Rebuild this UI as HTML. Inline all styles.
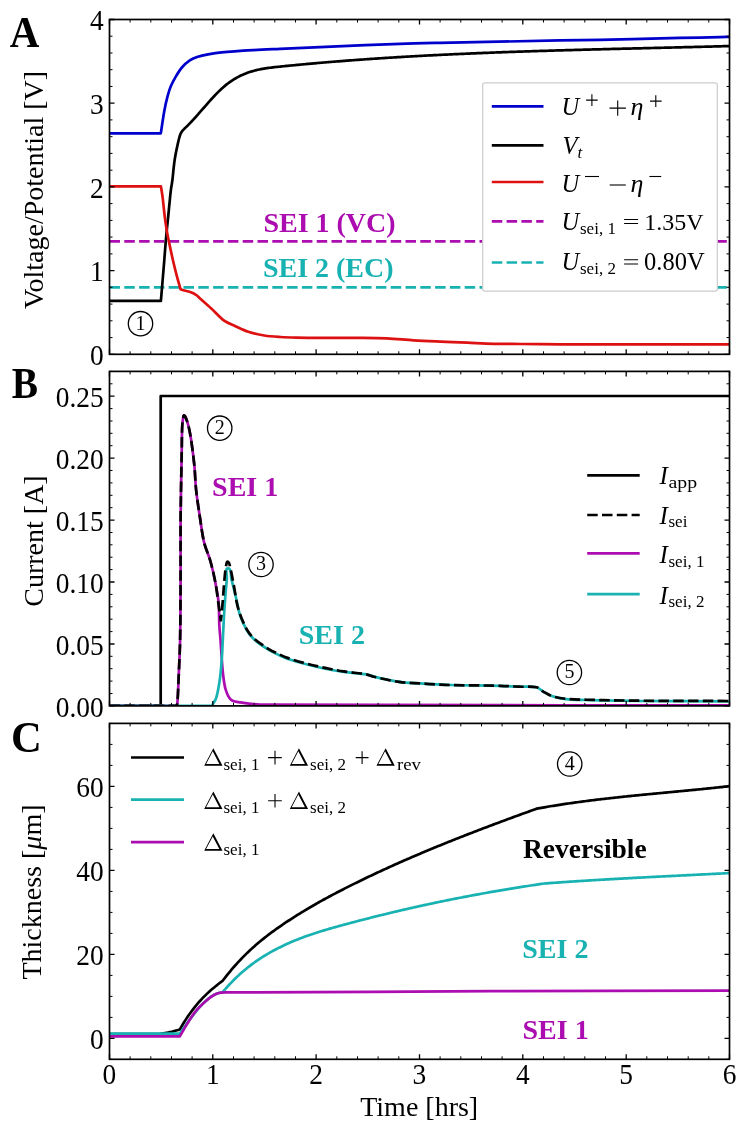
<!DOCTYPE html>
<html><head><meta charset="utf-8"><style>
html,body{margin:0;padding:0;background:#fff;width:746px;height:1131px;overflow:hidden}
svg{display:block;will-change:transform}
text{font-family:"Liberation Serif",serif}
</style></head><body>
<svg width="746" height="1131" viewBox="0 0 746 1131">
<rect width="746" height="1131" fill="#fff"/>
<defs>
<clipPath id="clipa"><rect x="109.5" y="19.5" width="620.0" height="334.8"/></clipPath>
<clipPath id="clipb"><rect x="109.5" y="371.4" width="620.0" height="334.5"/></clipPath>
<clipPath id="clipc"><rect x="109.5" y="723.4" width="620.0" height="335.9"/></clipPath>
</defs>
<g clip-path="url(#clipa)">
<path d="M109.5,241.3 L729.5,241.3" fill="none" stroke="#ab0db0" stroke-width="2.7" stroke-linejoin="round" stroke-dasharray="10.5 4.3"/>
<path d="M109.5,287.3 L729.5,287.3" fill="none" stroke="#19b2b2" stroke-width="2.7" stroke-linejoin="round" stroke-dasharray="10.5 4.3"/>
<path d="M109.00,133.40 L160.80,133.40 C162.00,125.77 163.01,118.10 164.40,110.50 C165.28,105.70 166.35,100.92 167.60,96.20 C168.46,92.95 169.41,89.71 170.70,86.60 C172.06,83.32 173.71,80.16 175.50,77.10 C177.45,73.78 179.40,70.42 181.90,67.50 C184.20,64.81 186.86,62.38 189.80,60.40 C192.23,58.77 195.02,57.72 197.80,56.80 C201.12,55.71 204.57,55.04 208.00,54.40 C212.47,53.57 216.97,52.83 221.50,52.40 C232.18,51.39 242.89,50.75 253.60,50.10 C262.39,49.57 271.20,49.25 280.00,48.85 C293.33,48.24 306.66,47.61 320.00,47.05 C346.66,45.94 373.33,44.78 400.00,43.85 C413.33,43.38 426.67,43.13 440.00,42.85 C480.00,42.00 520.00,41.18 560.00,40.45 C573.33,40.21 586.67,40.23 600.00,39.95 C626.67,39.39 653.33,38.57 680.00,37.95 C693.33,37.64 706.67,37.45 720.00,37.15 C723.17,37.08 726.33,36.95 729.50,36.85" fill="none" stroke="#0000cc" stroke-width="2.7" stroke-linejoin="round"/>
<path d="M109.00,300.80 L113.36,300.80 L119.54,300.80 L126.94,300.80 L134.95,300.80 L142.96,300.80 L150.36,300.80 L156.54,300.80 L160.90,300.80 L161.13,298.09 L161.44,294.44 L161.80,290.10 L162.21,285.29 L162.63,280.26 L163.05,275.25 L163.45,270.48 L163.80,266.20 L164.12,262.29 L164.42,258.48 L164.71,254.75 L164.99,251.12 L165.26,247.59 L165.54,244.14 L165.82,240.77 L166.10,237.50 L166.39,234.35 L166.67,231.35 L166.96,228.46 L167.25,225.64 L167.54,222.87 L167.82,220.12 L168.11,217.34 L168.40,214.50 L168.69,211.55 L168.99,208.48 L169.29,205.37 L169.59,202.28 L169.88,199.28 L170.17,196.44 L170.44,193.82 L170.70,191.50 L170.94,189.58 L171.15,188.04 L171.35,186.76 L171.54,185.62 L171.74,184.50 L171.94,183.27 L172.16,181.81 L172.40,180.00 L172.66,177.82 L172.92,175.37 L173.18,172.73 L173.46,169.97 L173.76,167.15 L174.08,164.33 L174.42,161.59 L174.80,159.00 L175.23,156.45 L175.70,153.83 L176.22,151.21 L176.75,148.64 L177.28,146.17 L177.80,143.87 L178.27,141.80 L178.70,140.00 L179.07,138.51 L179.39,137.30 L179.67,136.30 L179.94,135.46 L180.21,134.75 L180.48,134.10 L180.77,133.47 L181.10,132.80 L181.48,132.12 L181.92,131.48 L182.38,130.89 L182.85,130.35 L183.30,129.87 L183.71,129.44 L184.05,129.09 L184.30,128.80 L185.80,127.38 L187.30,125.92 L188.81,124.41 L190.31,122.85 L191.81,121.26 L193.31,119.64 L194.81,117.99 L196.32,116.31 L197.82,114.62 L199.32,112.91 L200.82,111.19 L202.32,109.46 L203.83,107.74 L205.33,106.01 L206.83,104.30 L208.33,102.59 L209.83,100.90 L211.33,99.23 L212.84,97.59 L214.34,95.98 L215.84,94.40 L217.34,92.86 L218.84,91.36 L220.35,89.91 L221.85,88.52 L223.35,87.17 L224.85,85.89 L226.35,84.67 L227.86,83.50 L229.36,82.39 L230.86,81.34 L232.36,80.33 L233.86,79.38 L235.37,78.48 L236.87,77.62 L238.37,76.82 L239.87,76.05 L241.37,75.33 L242.88,74.65 L244.38,74.01 L245.88,73.41 L247.38,72.85 L248.88,72.32 L250.38,71.82 L251.89,71.36 L253.39,70.93 L254.89,70.53 L256.39,70.15 L257.89,69.80 L259.40,69.47 L260.90,69.17 L262.40,68.89 L263.90,68.62 L265.40,68.38 L266.91,68.15 L268.41,67.94 L269.91,67.73 L271.41,67.54 L272.91,67.37 L274.42,67.19 L275.92,67.03 L277.42,66.87 L278.92,66.72 L280.42,66.56 L281.93,66.41 L283.43,66.26 L284.93,66.11 L286.43,65.96 L287.93,65.81 L289.43,65.66 L290.94,65.52 L292.44,65.37 L293.94,65.22 L295.44,65.08 L296.94,64.94 L298.45,64.80 L299.95,64.65 L301.45,64.51 L302.95,64.37 L304.45,64.24 L305.96,64.10 L307.46,63.96 L308.96,63.83 L310.46,63.69 L311.96,63.56 L313.47,63.42 L314.97,63.29 L316.47,63.16 L317.97,63.03 L319.47,62.90 L320.98,62.77 L322.48,62.64 L323.98,62.51 L325.48,62.39 L326.98,62.26 L328.49,62.14 L329.99,62.01 L331.49,61.89 L332.99,61.77 L334.49,61.64 L335.99,61.52 L337.50,61.40 L339.00,61.28 L340.50,61.17 L342.00,61.05 L343.50,60.93 L345.01,60.81 L346.51,60.70 L348.01,60.58 L349.51,60.47 L351.01,60.36 L352.52,60.25 L354.02,60.13 L355.52,60.02 L357.02,59.91 L358.52,59.80 L360.03,59.70 L361.53,59.59 L363.03,59.48 L364.53,59.37 L366.03,59.27 L367.54,59.16 L369.04,59.06 L370.54,58.96 L372.04,58.85 L373.54,58.75 L375.04,58.65 L376.55,58.55 L378.05,58.45 L379.55,58.35 L381.05,58.25 L382.55,58.16 L384.06,58.06 L385.56,57.96 L387.06,57.87 L388.56,57.77 L390.06,57.68 L391.57,57.58 L393.07,57.49 L394.57,57.40 L396.07,57.31 L397.57,57.21 L399.08,57.12 L400.58,57.03 L402.08,56.95 L403.58,56.86 L405.08,56.77 L406.59,56.68 L408.09,56.60 L409.59,56.51 L411.09,56.42 L412.59,56.34 L414.10,56.25 L415.60,56.17 L417.10,56.09 L418.60,56.01 L420.10,55.92 L421.60,55.84 L423.11,55.76 L424.61,55.68 L426.11,55.60 L427.61,55.52 L429.11,55.45 L430.62,55.37 L432.12,55.29 L433.62,55.21 L435.12,55.14 L436.62,55.06 L438.13,54.99 L439.63,54.91 L441.13,54.84 L442.63,54.77 L444.13,54.69 L445.64,54.62 L447.14,54.55 L448.64,54.48 L450.14,54.41 L451.64,54.34 L453.15,54.27 L454.65,54.20 L456.15,54.13 L457.65,54.06 L459.15,53.99 L460.65,53.92 L462.16,53.86 L463.66,53.79 L465.16,53.73 L466.66,53.66 L468.16,53.60 L469.67,53.53 L471.17,53.47 L472.67,53.40 L474.17,53.34 L475.67,53.28 L477.18,53.22 L478.68,53.15 L480.18,53.09 L481.68,53.03 L483.18,52.97 L484.69,52.91 L486.19,52.85 L487.69,52.79 L489.19,52.73 L490.69,52.68 L492.20,52.62 L493.70,52.56 L495.20,52.50 L496.70,52.45 L498.20,52.39 L499.70,52.34 L501.21,52.28 L502.71,52.22 L504.21,52.17 L505.71,52.12 L507.21,52.06 L508.72,52.01 L510.22,51.95 L511.72,51.90 L513.22,51.85 L514.72,51.80 L516.23,51.74 L517.73,51.69 L519.23,51.64 L520.73,51.59 L522.23,51.54 L523.74,51.49 L525.24,51.44 L526.74,51.39 L528.24,51.34 L529.74,51.29 L531.25,51.24 L532.75,51.20 L534.25,51.15 L535.75,51.10 L537.25,51.05 L538.76,51.01 L540.26,50.96 L541.76,50.91 L543.26,50.87 L544.76,50.82 L546.26,50.78 L547.77,50.73 L549.27,50.68 L550.77,50.64 L552.27,50.59 L553.77,50.55 L555.28,50.51 L556.78,50.46 L558.28,50.42 L559.78,50.38 L561.28,50.33 L562.79,50.29 L564.29,50.25 L565.79,50.20 L567.29,50.16 L568.79,50.12 L570.30,50.08 L571.80,50.04 L573.30,49.99 L574.80,49.95 L576.30,49.91 L577.81,49.87 L579.31,49.83 L580.81,49.79 L582.31,49.75 L583.81,49.71 L585.31,49.67 L586.82,49.63 L588.32,49.59 L589.82,49.55 L591.32,49.51 L592.82,49.47 L594.33,49.43 L595.83,49.39 L597.33,49.36 L598.83,49.32 L600.33,49.28 L601.84,49.24 L603.34,49.20 L604.84,49.16 L606.34,49.13 L607.84,49.09 L609.35,49.05 L610.85,49.01 L612.35,48.97 L613.85,48.94 L615.35,48.90 L616.86,48.86 L618.36,48.83 L619.86,48.79 L621.36,48.75 L622.86,48.71 L624.37,48.68 L625.87,48.64 L627.37,48.60 L628.87,48.57 L630.37,48.53 L631.87,48.49 L633.38,48.46 L634.88,48.42 L636.38,48.38 L637.88,48.35 L639.38,48.31 L640.89,48.28 L642.39,48.24 L643.89,48.20 L645.39,48.17 L646.89,48.13 L648.40,48.09 L649.90,48.06 L651.40,48.02 L652.90,47.99 L654.40,47.95 L655.91,47.91 L657.41,47.88 L658.91,47.84 L660.41,47.80 L661.91,47.77 L663.42,47.73 L664.92,47.70 L666.42,47.66 L667.92,47.62 L669.42,47.59 L670.92,47.55 L672.43,47.51 L673.93,47.48 L675.43,47.44 L676.93,47.40 L678.43,47.37 L679.94,47.33 L681.44,47.29 L682.94,47.26 L684.44,47.22 L685.94,47.18 L687.45,47.14 L688.95,47.11 L690.45,47.07 L691.95,47.03 L693.45,46.99 L694.96,46.96 L696.46,46.92 L697.96,46.88 L699.46,46.84 L700.96,46.80 L702.47,46.77 L703.97,46.73 L705.47,46.69 L706.97,46.65 L708.47,46.61 L709.97,46.57 L711.48,46.53 L712.98,46.49 L714.48,46.45 L715.98,46.41 L717.48,46.37 L718.99,46.33 L720.49,46.29 L721.99,46.25 L723.49,46.21 L724.99,46.17 L726.50,46.13 L728.00,46.09 L729.50,46.05" fill="none" stroke="#000000" stroke-width="2.7" stroke-linejoin="round"/>
<path d="M109.00,186.30 L160.90,186.30 C161.47,189.93 162.14,193.55 162.60,197.20 C163.47,204.09 164.01,211.01 164.90,217.90 C165.55,222.92 166.33,227.92 167.20,232.90 C167.87,236.75 168.70,240.57 169.50,244.40 C170.63,249.77 171.77,255.15 173.00,260.50 C174.07,265.12 175.20,269.72 176.40,274.30 C177.70,279.28 179.13,284.23 180.50,289.20 C181.43,289.57 182.34,290.01 183.30,290.30 C185.58,290.98 187.97,291.29 190.20,292.10 C192.22,292.83 194.19,293.74 196.00,294.90 C197.49,295.86 198.68,297.22 200.00,298.40 C203.78,301.76 207.58,305.08 211.30,308.50 C215.62,312.48 219.37,317.12 224.10,320.60 C227.49,323.09 231.58,324.43 235.40,326.20 C239.65,328.17 243.84,330.36 248.30,331.80 C253.51,333.48 258.90,334.62 264.30,335.50 C269.62,336.36 275.02,336.65 280.40,337.00 C285.76,337.35 291.13,337.48 296.50,337.60 C304.33,337.78 312.17,337.86 320.00,337.90 C333.33,337.96 346.67,337.80 360.00,337.90 C368.93,337.97 377.87,338.00 386.80,338.40 C395.75,338.80 404.66,339.77 413.60,340.30 C422.53,340.83 431.47,341.20 440.40,341.60 C449.33,342.00 458.27,342.33 467.20,342.70 C476.13,343.07 485.06,343.58 494.00,343.80 C502.96,344.02 511.93,343.93 520.90,344.00 C533.93,344.10 546.97,344.28 560.00,344.30 C616.40,344.38 672.80,344.30 729.20,344.30" fill="none" stroke="#dd1111" stroke-width="2.7" stroke-linejoin="round"/>
</g>
<g clip-path="url(#clipb)">
<path d="M109.5,705.9 L160.7,705.9 L160.7,396.0 L729.2,396.0" fill="none" stroke="#000000" stroke-width="2.7" stroke-linejoin="round"/>
<path d="M109.45,705.90 L176.50,705.90 C176.80,704.97 177.33,704.08 177.40,703.10 C178.10,693.28 178.38,683.44 178.80,673.60 C179.28,662.44 179.89,651.27 180.10,640.10 C180.49,620.07 180.52,600.03 180.60,580.00 C180.68,559.97 180.49,539.93 180.60,519.90 C180.66,508.20 180.91,496.50 181.10,484.80 C181.27,474.20 181.50,463.60 181.70,453.00 C181.87,444.17 181.81,435.33 182.20,426.50 C182.34,423.32 182.71,420.13 183.30,417.00 C183.42,416.38 183.71,415.17 184.30,415.40 C185.25,415.77 185.53,417.05 185.90,418.00 C186.97,420.77 187.91,423.61 188.60,426.50 C189.68,431.05 190.52,435.67 191.20,440.30 C192.45,448.84 193.55,457.41 194.40,466.00 C195.18,473.91 195.24,481.89 196.10,489.80 C197.14,499.40 198.65,508.95 200.10,518.50 C201.31,526.49 202.20,534.55 204.10,542.40 C205.68,548.93 208.68,555.04 210.50,561.50 C212.42,568.32 213.93,575.25 215.30,582.20 C216.63,588.93 217.96,595.67 218.60,602.50 C219.30,609.97 218.92,617.51 219.30,625.00 C219.55,630.01 220.13,635.00 220.50,640.00 C220.87,645.00 221.13,650.00 221.50,655.00 C221.96,661.20 222.25,667.42 223.00,673.60 C223.65,679.00 224.11,684.50 225.70,689.70 C226.81,693.34 228.12,697.31 231.00,699.80 C233.46,701.93 237.19,701.88 240.40,702.40 C246.89,703.45 253.43,704.46 260.00,704.50 C416.40,705.46 572.80,705.10 729.20,705.40" fill="none" stroke="#ab0db0" stroke-width="2.7" stroke-linejoin="round"/>
<path d="M109.45,705.90 L212.00,705.90 C212.33,705.20 212.64,704.49 213.00,703.80 C214.07,701.75 215.67,699.92 216.30,697.70 C217.92,692.02 218.86,686.15 219.70,680.30 C220.66,673.64 221.18,666.91 221.70,660.20 C222.22,653.48 222.44,646.73 222.80,640.00 C223.37,629.23 223.79,618.46 224.50,607.70 C225.13,598.12 225.90,588.56 226.80,579.00 C227.13,575.45 224.64,568.29 228.20,568.41 C231.94,568.54 230.44,575.55 231.40,579.16 C233.04,585.34 234.51,591.56 236.00,597.78 C237.38,603.53 238.13,609.45 240.00,615.06 C241.75,620.31 244.01,625.42 246.80,630.20 C248.82,633.66 251.31,636.93 254.30,639.60 C258.72,643.55 263.78,646.74 268.80,649.90 C271.74,651.75 274.96,653.12 278.10,654.60 C281.19,656.06 284.27,657.59 287.50,658.70 C293.68,660.83 299.98,662.62 306.30,664.30 C312.52,665.95 318.79,667.41 325.10,668.70 C331.30,669.97 337.53,671.09 343.80,671.96 C351.27,673.00 358.84,673.29 366.30,674.44 C368.87,674.84 371.27,675.98 373.80,676.60 C379.18,677.91 384.57,679.12 390.00,680.20 C394.11,681.02 398.23,681.89 402.40,682.30 C410.41,683.09 418.46,683.34 426.50,683.80 C434.33,684.24 442.16,684.79 450.00,685.00 C466.66,685.45 483.34,685.39 500.00,685.80 C506.27,685.95 512.53,686.44 518.80,686.70 C524.73,686.94 530.78,686.14 536.60,687.30 C539.17,687.81 540.92,690.27 543.20,691.56 C546.23,693.28 549.20,695.22 552.50,696.33 C556.76,697.75 561.23,698.59 565.70,699.10 C571.90,699.81 578.16,699.84 584.40,700.00 C602.93,700.47 621.46,700.83 640.00,701.00 C669.73,701.27 699.47,701.20 729.20,701.30" fill="none" stroke="#19b2b2" stroke-width="2.7" stroke-linejoin="round"/>
<path d="M109.45,705.90 L176.50,705.90 C176.80,704.97 177.33,704.08 177.40,703.10 C178.10,693.28 178.38,683.44 178.80,673.60 C179.28,662.44 179.89,651.27 180.10,640.10 C180.49,620.07 180.52,600.03 180.60,580.00 C180.68,559.97 180.49,539.93 180.60,519.90 C180.66,508.20 180.91,496.50 181.10,484.80 C181.27,474.20 181.50,463.60 181.70,453.00 C181.87,444.17 181.81,435.33 182.20,426.50 C182.34,423.32 182.71,420.13 183.30,417.00 C183.42,416.38 183.71,415.17 184.30,415.40 C185.25,415.77 185.53,417.05 185.90,418.00 C186.97,420.77 187.91,423.61 188.60,426.50 C189.68,431.05 190.52,435.67 191.20,440.30 C192.45,448.84 193.55,457.41 194.40,466.00 C195.18,473.91 195.24,481.89 196.10,489.80 C197.14,499.40 198.65,508.95 200.10,518.50 C201.31,526.49 202.20,534.55 204.10,542.40 C205.68,548.93 208.68,555.04 210.50,561.50 C212.42,568.32 214.03,575.23 215.30,582.20 C216.93,591.15 217.90,600.20 219.20,609.20 C219.74,612.93 220.27,616.67 220.80,620.40 C221.27,616.17 221.82,611.94 222.20,607.70 C223.05,598.14 223.60,588.56 224.50,579.00 C224.93,574.39 225.31,569.75 226.20,565.20 C226.45,563.93 226.78,561.05 227.90,561.70 C229.70,562.74 229.69,565.48 230.20,567.50 C231.63,573.17 232.58,578.96 233.70,584.70 C235.28,592.76 235.99,601.02 238.30,608.90 C240.38,616.00 243.31,622.88 246.80,629.40 C248.69,632.93 251.31,636.13 254.30,638.80 C258.72,642.75 263.78,645.94 268.80,649.10 C271.74,650.95 274.96,652.32 278.10,653.80 C281.19,655.26 284.27,656.79 287.50,657.90 C293.68,660.03 299.98,661.82 306.30,663.50 C312.52,665.15 318.80,666.57 325.10,667.90 C331.31,669.21 337.53,670.46 343.80,671.44 C351.27,672.62 358.85,673.08 366.30,674.39 C368.88,674.84 371.26,676.06 373.80,676.70 C379.17,678.04 384.57,679.25 390.00,680.31 C394.11,681.12 398.23,681.90 402.40,682.30 C410.41,683.07 418.46,683.34 426.50,683.80 C434.33,684.24 442.16,684.79 450.00,685.00 C466.66,685.45 483.34,685.39 500.00,685.80 C506.27,685.95 512.53,686.44 518.80,686.70 C524.73,686.94 530.78,686.14 536.60,687.30 C539.17,687.81 540.92,690.27 543.20,691.56 C546.23,693.28 549.18,695.26 552.50,696.33 C556.76,697.70 561.25,698.33 565.70,698.80 C571.91,699.46 578.16,699.54 584.40,699.70 C602.93,700.17 621.46,700.53 640.00,700.70 C669.73,700.97 699.47,700.90 729.20,701.00" fill="none" stroke="#000000" stroke-width="2.7" stroke-linejoin="round" stroke-dasharray="10.5 4.3"/>
</g>
<g clip-path="url(#clipc)">
<path d="M109.00,1034.00 L113.28,1034.00 L119.36,1034.00 L126.63,1034.00 L134.50,1034.00 L142.37,1034.00 L149.64,1034.00 L155.72,1034.00 L160.00,1034.00 L160.87,1033.84 L162.05,1033.63 L163.45,1033.38 L165.01,1033.10 L166.63,1032.80 L168.23,1032.50 L169.75,1032.19 L171.10,1031.90 L172.36,1031.60 L173.65,1031.26 L174.92,1030.92 L176.14,1030.57 L177.28,1030.24 L178.29,1029.94 L179.15,1029.69 L179.80,1029.50 L181.33,1026.83 L182.86,1024.26 L184.40,1021.78 L185.93,1019.38 L187.46,1017.07 L188.99,1014.83 L190.53,1012.68 L192.06,1010.60 L193.59,1008.59 L195.12,1006.66 L196.65,1004.79 L198.19,1002.98 L199.72,1001.24 L201.25,999.56 L202.78,997.94 L204.31,996.37 L205.85,994.85 L207.38,993.38 L208.91,991.95 L210.44,990.57 L211.97,989.23 L213.51,987.93 L215.04,986.67 L216.57,985.43 L218.10,984.23 L219.64,983.05 L221.17,981.90 L222.70,980.77 L224.20,978.79 L225.71,976.86 L227.21,974.96 L228.71,973.09 L230.21,971.27 L231.72,969.48 L233.22,967.73 L234.72,966.01 L236.23,964.32 L237.73,962.67 L239.23,961.04 L240.73,959.45 L242.24,957.89 L243.74,956.36 L245.24,954.86 L246.75,953.39 L248.25,951.94 L249.75,950.53 L251.25,949.13 L252.76,947.77 L254.26,946.42 L255.76,945.10 L257.27,943.81 L258.77,942.53 L260.27,941.28 L261.77,940.04 L263.28,938.83 L264.78,937.64 L266.28,936.46 L267.79,935.30 L269.29,934.16 L270.79,933.04 L272.29,931.93 L273.80,930.83 L275.30,929.75 L276.80,928.68 L278.31,927.62 L279.81,926.57 L281.31,925.54 L282.81,924.51 L284.32,923.49 L285.82,922.49 L287.32,921.49 L288.83,920.50 L290.33,919.51 L291.83,918.54 L293.33,917.58 L294.84,916.62 L296.34,915.67 L297.84,914.73 L299.35,913.79 L300.85,912.86 L302.35,911.95 L303.86,911.03 L305.36,910.13 L306.86,909.23 L308.36,908.34 L309.87,907.46 L311.37,906.58 L312.87,905.71 L314.38,904.84 L315.88,903.98 L317.38,903.13 L318.88,902.28 L320.39,901.44 L321.89,900.61 L323.39,899.78 L324.90,898.95 L326.40,898.14 L327.90,897.32 L329.40,896.51 L330.91,895.71 L332.41,894.91 L333.91,894.12 L335.42,893.33 L336.92,892.54 L338.42,891.76 L339.92,890.98 L341.43,890.21 L342.93,889.44 L344.43,888.67 L345.94,887.91 L347.44,887.15 L348.94,886.40 L350.44,885.65 L351.95,884.90 L353.45,884.15 L354.95,883.41 L356.46,882.67 L357.96,881.93 L359.46,881.19 L360.96,880.46 L362.47,879.73 L363.97,879.01 L365.47,878.28 L366.98,877.56 L368.48,876.84 L369.98,876.13 L371.48,875.41 L372.99,874.70 L374.49,874.00 L375.99,873.29 L377.50,872.59 L379.00,871.89 L380.50,871.19 L382.00,870.49 L383.51,869.80 L385.01,869.11 L386.51,868.42 L388.02,867.74 L389.52,867.06 L391.02,866.38 L392.52,865.70 L394.03,865.02 L395.53,864.35 L397.03,863.68 L398.54,863.01 L400.04,862.34 L401.54,861.68 L403.04,861.02 L404.55,860.36 L406.05,859.70 L407.55,859.04 L409.06,858.39 L410.56,857.74 L412.06,857.09 L413.56,856.44 L415.07,855.80 L416.57,855.16 L418.07,854.51 L419.58,853.88 L421.08,853.24 L422.58,852.60 L424.08,851.97 L425.59,851.34 L427.09,850.71 L428.59,850.08 L430.10,849.46 L431.60,848.84 L433.10,848.21 L434.60,847.59 L436.11,846.98 L437.61,846.36 L439.11,845.75 L440.62,845.13 L442.12,844.52 L443.62,843.91 L445.12,843.31 L446.63,842.70 L448.13,842.10 L449.63,841.49 L451.14,840.89 L452.64,840.29 L454.14,839.70 L455.64,839.10 L457.15,838.50 L458.65,837.91 L460.15,837.32 L461.66,836.73 L463.16,836.14 L464.66,835.55 L466.17,834.97 L467.67,834.38 L469.17,833.80 L470.67,833.22 L472.18,832.64 L473.68,832.06 L475.18,831.48 L476.69,830.90 L478.19,830.33 L479.69,829.75 L481.19,829.18 L482.70,828.61 L484.20,828.04 L485.70,827.47 L487.21,826.90 L488.71,826.33 L490.21,825.76 L491.71,825.20 L493.22,824.64 L494.72,824.07 L496.22,823.51 L497.73,822.95 L499.23,822.39 L500.73,821.83 L502.23,821.27 L503.74,820.71 L505.24,820.16 L506.74,819.60 L508.25,819.05 L509.75,818.49 L511.25,817.94 L512.75,817.39 L514.26,816.84 L515.76,816.28 L517.26,815.73 L518.77,815.18 L520.27,814.64 L521.77,814.09 L523.27,813.54 L524.78,812.99 L526.28,812.45 L527.78,811.90 L529.29,811.36 L530.79,810.81 L532.29,810.27 L533.79,809.72 L535.30,809.18 L536.80,808.64 L538.30,808.37 L539.81,808.10 L541.31,807.83 L542.81,807.57 L544.32,807.30 L545.82,807.05 L547.32,806.79 L548.82,806.54 L550.33,806.29 L551.83,806.04 L553.33,805.80 L554.84,805.56 L556.34,805.32 L557.84,805.08 L559.35,804.85 L560.85,804.61 L562.35,804.38 L563.86,804.16 L565.36,803.93 L566.86,803.71 L568.37,803.49 L569.87,803.27 L571.37,803.06 L572.88,802.85 L574.38,802.63 L575.88,802.43 L577.38,802.22 L578.89,802.02 L580.39,801.81 L581.89,801.61 L583.40,801.41 L584.90,801.22 L586.40,801.02 L587.91,800.83 L589.41,800.64 L590.91,800.45 L592.42,800.26 L593.92,800.08 L595.42,799.89 L596.92,799.71 L598.43,799.53 L599.93,799.35 L601.43,799.17 L602.94,799.00 L604.44,798.82 L605.94,798.65 L607.45,798.48 L608.95,798.31 L610.45,798.14 L611.96,797.97 L613.46,797.81 L614.96,797.64 L616.47,797.48 L617.97,797.32 L619.47,797.16 L620.98,797.00 L622.48,796.84 L623.98,796.68 L625.48,796.52 L626.99,796.37 L628.49,796.21 L629.99,796.06 L631.50,795.90 L633.00,795.75 L634.50,795.60 L636.01,795.45 L637.51,795.30 L639.01,795.15 L640.52,795.00 L642.02,794.85 L643.52,794.71 L645.02,794.56 L646.53,794.41 L648.03,794.27 L649.53,794.12 L651.04,793.98 L652.54,793.83 L654.04,793.69 L655.55,793.55 L657.05,793.40 L658.55,793.26 L660.06,793.12 L661.56,792.97 L663.06,792.83 L664.57,792.69 L666.07,792.55 L667.57,792.40 L669.08,792.26 L670.58,792.12 L672.08,791.98 L673.58,791.83 L675.09,791.69 L676.59,791.55 L678.09,791.41 L679.60,791.26 L681.10,791.12 L682.60,790.98 L684.11,790.83 L685.61,790.69 L687.11,790.55 L688.62,790.40 L690.12,790.25 L691.62,790.11 L693.12,789.96 L694.63,789.82 L696.13,789.67 L697.63,789.52 L699.14,789.37 L700.64,789.22 L702.14,789.07 L703.65,788.92 L705.15,788.77 L706.65,788.62 L708.16,788.46 L709.66,788.31 L711.16,788.15 L712.67,788.00 L714.17,787.84 L715.67,787.68 L717.18,787.52 L718.68,787.36 L720.18,787.20 L721.68,787.04 L723.19,786.87 L724.69,786.71 L726.19,786.54 L727.70,786.37 L729.20,786.21" fill="none" stroke="#000000" stroke-width="2.7" stroke-linejoin="round"/>
<path d="M109.00,1033.70 L114.95,1033.70 L123.38,1033.70 L133.48,1033.70 L144.40,1033.70 L155.32,1033.70 L165.42,1033.70 L173.85,1033.70 L179.80,1033.70 L181.33,1031.49 L182.85,1029.30 L184.38,1027.11 L185.90,1024.95 L187.43,1022.81 L188.95,1020.70 L190.48,1018.63 L192.00,1016.60 L193.53,1014.61 L195.05,1012.67 L196.58,1010.79 L198.10,1008.97 L199.62,1007.22 L201.15,1005.53 L202.68,1003.93 L204.20,1002.40 L205.72,1000.97 L207.25,999.62 L208.78,998.37 L210.30,997.23 L211.82,996.19 L213.35,995.26 L214.88,994.46 L216.40,993.77 L217.93,993.22 L219.45,992.79 L220.97,992.51 L222.50,992.37 L224.00,990.59 L225.51,988.86 L227.01,987.16 L228.51,985.51 L230.02,983.89 L231.52,982.32 L233.03,980.78 L234.53,979.27 L236.03,977.81 L237.54,976.38 L239.04,974.98 L240.54,973.61 L242.05,972.28 L243.55,970.98 L245.06,969.72 L246.56,968.48 L248.06,967.27 L249.57,966.09 L251.07,964.94 L252.57,963.82 L254.08,962.72 L255.58,961.65 L257.09,960.61 L258.59,959.59 L260.09,958.59 L261.60,957.61 L263.10,956.66 L264.60,955.73 L266.11,954.82 L267.61,953.93 L269.12,953.05 L270.62,952.20 L272.12,951.36 L273.63,950.54 L275.13,949.74 L276.63,948.95 L278.14,948.17 L279.64,947.42 L281.15,946.67 L282.65,945.95 L284.15,945.23 L285.66,944.53 L287.16,943.84 L288.66,943.17 L290.17,942.51 L291.67,941.86 L293.18,941.23 L294.68,940.61 L296.18,939.99 L297.69,939.39 L299.19,938.81 L300.69,938.23 L302.20,937.66 L303.70,937.10 L305.21,936.55 L306.71,936.01 L308.21,935.48 L309.72,934.96 L311.22,934.45 L312.72,933.95 L314.23,933.45 L315.73,932.96 L317.24,932.48 L318.74,932.00 L320.24,931.53 L321.75,931.07 L323.25,930.62 L324.75,930.16 L326.26,929.72 L327.76,929.28 L329.27,928.84 L330.77,928.41 L332.27,927.98 L333.78,927.55 L335.28,927.13 L336.78,926.71 L338.29,926.30 L339.79,925.88 L341.30,925.47 L342.80,925.06 L344.30,924.65 L345.81,924.24 L347.31,923.84 L348.81,923.43 L350.32,923.03 L351.82,922.63 L353.33,922.23 L354.83,921.83 L356.33,921.44 L357.84,921.04 L359.34,920.65 L360.84,920.26 L362.35,919.87 L363.85,919.48 L365.36,919.09 L366.86,918.71 L368.36,918.32 L369.87,917.94 L371.37,917.56 L372.87,917.18 L374.38,916.80 L375.88,916.42 L377.39,916.05 L378.89,915.68 L380.39,915.31 L381.90,914.94 L383.40,914.57 L384.90,914.20 L386.41,913.83 L387.91,913.47 L389.41,913.11 L390.92,912.75 L392.42,912.39 L393.93,912.03 L395.43,911.67 L396.93,911.32 L398.44,910.97 L399.94,910.61 L401.44,910.26 L402.95,909.91 L404.45,909.57 L405.96,909.22 L407.46,908.88 L408.96,908.53 L410.47,908.19 L411.97,907.85 L413.47,907.51 L414.98,907.18 L416.48,906.84 L417.99,906.51 L419.49,906.17 L420.99,905.84 L422.50,905.51 L424.00,905.19 L425.50,904.86 L427.01,904.53 L428.51,904.21 L430.02,903.89 L431.52,903.57 L433.02,903.25 L434.53,902.93 L436.03,902.61 L437.53,902.30 L439.04,901.99 L440.54,901.67 L442.05,901.36 L443.55,901.05 L445.05,900.75 L446.56,900.44 L448.06,900.13 L449.56,899.83 L451.07,899.53 L452.57,899.23 L454.08,898.93 L455.58,898.63 L457.08,898.34 L458.59,898.04 L460.09,897.75 L461.59,897.46 L463.10,897.16 L464.60,896.88 L466.11,896.59 L467.61,896.30 L469.11,896.02 L470.62,895.73 L472.12,895.45 L473.62,895.17 L475.13,894.89 L476.63,894.61 L478.14,894.34 L479.64,894.06 L481.14,893.79 L482.65,893.51 L484.15,893.24 L485.65,892.97 L487.16,892.71 L488.66,892.44 L490.17,892.17 L491.67,891.91 L493.17,891.65 L494.68,891.39 L496.18,891.13 L497.68,890.87 L499.19,890.61 L500.69,890.35 L502.20,890.10 L503.70,889.85 L505.20,889.59 L506.71,889.34 L508.21,889.09 L509.71,888.85 L511.22,888.60 L512.72,888.36 L514.23,888.11 L515.73,887.87 L517.23,887.63 L518.74,887.39 L520.24,887.15 L521.74,886.91 L523.25,886.68 L524.75,886.44 L526.26,886.21 L527.76,885.98 L529.26,885.75 L530.77,885.52 L532.27,885.29 L533.77,885.06 L535.28,884.84 L536.78,884.62 L538.29,884.39 L539.79,884.17 L541.29,883.95 L542.80,883.73 L544.30,883.52 L545.80,883.40 L547.31,883.29 L548.81,883.18 L550.31,883.07 L551.82,882.96 L553.32,882.85 L554.82,882.75 L556.33,882.64 L557.83,882.53 L559.33,882.43 L560.84,882.32 L562.34,882.22 L563.84,882.12 L565.35,882.01 L566.85,881.91 L568.35,881.81 L569.86,881.71 L571.36,881.61 L572.86,881.51 L574.37,881.41 L575.87,881.31 L577.37,881.22 L578.87,881.12 L580.38,881.02 L581.88,880.93 L583.38,880.83 L584.89,880.74 L586.39,880.64 L587.89,880.55 L589.40,880.46 L590.90,880.36 L592.40,880.27 L593.91,880.18 L595.41,880.09 L596.91,880.00 L598.42,879.91 L599.92,879.82 L601.42,879.73 L602.93,879.64 L604.43,879.55 L605.93,879.47 L607.44,879.38 L608.94,879.29 L610.44,879.21 L611.95,879.12 L613.45,879.04 L614.95,878.95 L616.46,878.87 L617.96,878.78 L619.46,878.70 L620.97,878.62 L622.47,878.53 L623.97,878.45 L625.48,878.37 L626.98,878.29 L628.48,878.20 L629.99,878.12 L631.49,878.04 L632.99,877.96 L634.50,877.88 L636.00,877.80 L637.50,877.72 L639.00,877.64 L640.51,877.56 L642.01,877.48 L643.51,877.41 L645.02,877.33 L646.52,877.25 L648.02,877.17 L649.53,877.09 L651.03,877.02 L652.53,876.94 L654.04,876.86 L655.54,876.79 L657.04,876.71 L658.55,876.63 L660.05,876.56 L661.55,876.48 L663.06,876.40 L664.56,876.33 L666.06,876.25 L667.57,876.18 L669.07,876.10 L670.57,876.03 L672.08,875.95 L673.58,875.88 L675.08,875.80 L676.59,875.73 L678.09,875.65 L679.59,875.58 L681.10,875.50 L682.60,875.43 L684.10,875.35 L685.61,875.28 L687.11,875.20 L688.61,875.13 L690.12,875.06 L691.62,874.98 L693.12,874.91 L694.63,874.83 L696.13,874.76 L697.63,874.68 L699.13,874.61 L700.64,874.53 L702.14,874.46 L703.64,874.38 L705.15,874.31 L706.65,874.24 L708.15,874.16 L709.66,874.09 L711.16,874.01 L712.66,873.94 L714.17,873.86 L715.67,873.78 L717.17,873.71 L718.68,873.63 L720.18,873.56 L721.68,873.48 L723.19,873.41 L724.69,873.33 L726.19,873.25 L727.70,873.18 L729.20,873.10" fill="none" stroke="#19b2b2" stroke-width="2.7" stroke-linejoin="round"/>
<path d="M109.00,1036.30 L179.80,1036.30 C182.27,1032.13 184.62,1027.90 187.20,1023.80 C189.76,1019.73 192.15,1015.52 195.20,1011.80 C198.41,1007.88 202.12,1004.38 205.90,1001.00 C208.41,998.76 211.07,996.64 214.00,995.00 C216.06,993.85 218.38,993.13 220.70,992.70 C223.33,992.22 226.03,992.43 228.70,992.30 C237.47,992.33 246.23,992.44 255.00,992.40 C333.33,992.07 411.67,991.50 490.00,991.20 C569.73,990.90 649.47,990.80 729.20,990.60" fill="none" stroke="#ab0db0" stroke-width="2.7" stroke-linejoin="round"/>
</g>
<path d="M109.5,354.3v-5.0M109.5,19.5v5.0" stroke="#000" stroke-width="1.3"/>
<path d="M130.1,354.3v-3.0M130.1,19.5v3.0" stroke="#000" stroke-width="1.0"/>
<path d="M150.8,354.3v-3.0M150.8,19.5v3.0" stroke="#000" stroke-width="1.0"/>
<path d="M171.5,354.3v-3.0M171.5,19.5v3.0" stroke="#000" stroke-width="1.0"/>
<path d="M192.1,354.3v-3.0M192.1,19.5v3.0" stroke="#000" stroke-width="1.0"/>
<path d="M212.8,354.3v-5.0M212.8,19.5v5.0" stroke="#000" stroke-width="1.3"/>
<path d="M233.5,354.3v-3.0M233.5,19.5v3.0" stroke="#000" stroke-width="1.0"/>
<path d="M254.1,354.3v-3.0M254.1,19.5v3.0" stroke="#000" stroke-width="1.0"/>
<path d="M274.8,354.3v-3.0M274.8,19.5v3.0" stroke="#000" stroke-width="1.0"/>
<path d="M295.5,354.3v-3.0M295.5,19.5v3.0" stroke="#000" stroke-width="1.0"/>
<path d="M316.1,354.3v-5.0M316.1,19.5v5.0" stroke="#000" stroke-width="1.3"/>
<path d="M336.8,354.3v-3.0M336.8,19.5v3.0" stroke="#000" stroke-width="1.0"/>
<path d="M357.5,354.3v-3.0M357.5,19.5v3.0" stroke="#000" stroke-width="1.0"/>
<path d="M378.1,354.3v-3.0M378.1,19.5v3.0" stroke="#000" stroke-width="1.0"/>
<path d="M398.8,354.3v-3.0M398.8,19.5v3.0" stroke="#000" stroke-width="1.0"/>
<path d="M419.5,354.3v-5.0M419.5,19.5v5.0" stroke="#000" stroke-width="1.3"/>
<path d="M440.1,354.3v-3.0M440.1,19.5v3.0" stroke="#000" stroke-width="1.0"/>
<path d="M460.8,354.3v-3.0M460.8,19.5v3.0" stroke="#000" stroke-width="1.0"/>
<path d="M481.5,354.3v-3.0M481.5,19.5v3.0" stroke="#000" stroke-width="1.0"/>
<path d="M502.1,354.3v-3.0M502.1,19.5v3.0" stroke="#000" stroke-width="1.0"/>
<path d="M522.8,354.3v-5.0M522.8,19.5v5.0" stroke="#000" stroke-width="1.3"/>
<path d="M543.5,354.3v-3.0M543.5,19.5v3.0" stroke="#000" stroke-width="1.0"/>
<path d="M564.1,354.3v-3.0M564.1,19.5v3.0" stroke="#000" stroke-width="1.0"/>
<path d="M584.8,354.3v-3.0M584.8,19.5v3.0" stroke="#000" stroke-width="1.0"/>
<path d="M605.5,354.3v-3.0M605.5,19.5v3.0" stroke="#000" stroke-width="1.0"/>
<path d="M626.2,354.3v-5.0M626.2,19.5v5.0" stroke="#000" stroke-width="1.3"/>
<path d="M646.8,354.3v-3.0M646.8,19.5v3.0" stroke="#000" stroke-width="1.0"/>
<path d="M667.5,354.3v-3.0M667.5,19.5v3.0" stroke="#000" stroke-width="1.0"/>
<path d="M688.2,354.3v-3.0M688.2,19.5v3.0" stroke="#000" stroke-width="1.0"/>
<path d="M708.8,354.3v-3.0M708.8,19.5v3.0" stroke="#000" stroke-width="1.0"/>
<path d="M729.5,354.3v-5.0M729.5,19.5v5.0" stroke="#000" stroke-width="1.3"/>
<path d="M109.5,354.3h5M729.5,354.3h-5" stroke="#000" stroke-width="1.3"/>
<path d="M109.5,270.6h5M729.5,270.6h-5" stroke="#000" stroke-width="1.3"/>
<path d="M109.5,186.9h5M729.5,186.9h-5" stroke="#000" stroke-width="1.3"/>
<path d="M109.5,103.2h5M729.5,103.2h-5" stroke="#000" stroke-width="1.3"/>
<path d="M109.5,19.5h5M729.5,19.5h-5" stroke="#000" stroke-width="1.3"/>
<path d="M109.5,337.6h3M729.5,337.6h-3" stroke="#000" stroke-width="1.0"/>
<path d="M109.5,320.8h3M729.5,320.8h-3" stroke="#000" stroke-width="1.0"/>
<path d="M109.5,304.1h3M729.5,304.1h-3" stroke="#000" stroke-width="1.0"/>
<path d="M109.5,287.3h3M729.5,287.3h-3" stroke="#000" stroke-width="1.0"/>
<path d="M109.5,253.9h3M729.5,253.9h-3" stroke="#000" stroke-width="1.0"/>
<path d="M109.5,237.1h3M729.5,237.1h-3" stroke="#000" stroke-width="1.0"/>
<path d="M109.5,220.4h3M729.5,220.4h-3" stroke="#000" stroke-width="1.0"/>
<path d="M109.5,203.6h3M729.5,203.6h-3" stroke="#000" stroke-width="1.0"/>
<path d="M109.5,170.2h3M729.5,170.2h-3" stroke="#000" stroke-width="1.0"/>
<path d="M109.5,153.4h3M729.5,153.4h-3" stroke="#000" stroke-width="1.0"/>
<path d="M109.5,136.7h3M729.5,136.7h-3" stroke="#000" stroke-width="1.0"/>
<path d="M109.5,119.9h3M729.5,119.9h-3" stroke="#000" stroke-width="1.0"/>
<path d="M109.5,86.5h3M729.5,86.5h-3" stroke="#000" stroke-width="1.0"/>
<path d="M109.5,69.7h3M729.5,69.7h-3" stroke="#000" stroke-width="1.0"/>
<path d="M109.5,53.0h3M729.5,53.0h-3" stroke="#000" stroke-width="1.0"/>
<path d="M109.5,36.2h3M729.5,36.2h-3" stroke="#000" stroke-width="1.0"/>
<rect x="109.5" y="19.5" width="620.0" height="334.8" fill="none" stroke="#000" stroke-width="1.7"/>
<path d="M109.5,705.9v-5.0M109.5,371.4v5.0" stroke="#000" stroke-width="1.3"/>
<path d="M130.1,705.9v-3.0M130.1,371.4v3.0" stroke="#000" stroke-width="1.0"/>
<path d="M150.8,705.9v-3.0M150.8,371.4v3.0" stroke="#000" stroke-width="1.0"/>
<path d="M171.5,705.9v-3.0M171.5,371.4v3.0" stroke="#000" stroke-width="1.0"/>
<path d="M192.1,705.9v-3.0M192.1,371.4v3.0" stroke="#000" stroke-width="1.0"/>
<path d="M212.8,705.9v-5.0M212.8,371.4v5.0" stroke="#000" stroke-width="1.3"/>
<path d="M233.5,705.9v-3.0M233.5,371.4v3.0" stroke="#000" stroke-width="1.0"/>
<path d="M254.1,705.9v-3.0M254.1,371.4v3.0" stroke="#000" stroke-width="1.0"/>
<path d="M274.8,705.9v-3.0M274.8,371.4v3.0" stroke="#000" stroke-width="1.0"/>
<path d="M295.5,705.9v-3.0M295.5,371.4v3.0" stroke="#000" stroke-width="1.0"/>
<path d="M316.1,705.9v-5.0M316.1,371.4v5.0" stroke="#000" stroke-width="1.3"/>
<path d="M336.8,705.9v-3.0M336.8,371.4v3.0" stroke="#000" stroke-width="1.0"/>
<path d="M357.5,705.9v-3.0M357.5,371.4v3.0" stroke="#000" stroke-width="1.0"/>
<path d="M378.1,705.9v-3.0M378.1,371.4v3.0" stroke="#000" stroke-width="1.0"/>
<path d="M398.8,705.9v-3.0M398.8,371.4v3.0" stroke="#000" stroke-width="1.0"/>
<path d="M419.5,705.9v-5.0M419.5,371.4v5.0" stroke="#000" stroke-width="1.3"/>
<path d="M440.1,705.9v-3.0M440.1,371.4v3.0" stroke="#000" stroke-width="1.0"/>
<path d="M460.8,705.9v-3.0M460.8,371.4v3.0" stroke="#000" stroke-width="1.0"/>
<path d="M481.5,705.9v-3.0M481.5,371.4v3.0" stroke="#000" stroke-width="1.0"/>
<path d="M502.1,705.9v-3.0M502.1,371.4v3.0" stroke="#000" stroke-width="1.0"/>
<path d="M522.8,705.9v-5.0M522.8,371.4v5.0" stroke="#000" stroke-width="1.3"/>
<path d="M543.5,705.9v-3.0M543.5,371.4v3.0" stroke="#000" stroke-width="1.0"/>
<path d="M564.1,705.9v-3.0M564.1,371.4v3.0" stroke="#000" stroke-width="1.0"/>
<path d="M584.8,705.9v-3.0M584.8,371.4v3.0" stroke="#000" stroke-width="1.0"/>
<path d="M605.5,705.9v-3.0M605.5,371.4v3.0" stroke="#000" stroke-width="1.0"/>
<path d="M626.2,705.9v-5.0M626.2,371.4v5.0" stroke="#000" stroke-width="1.3"/>
<path d="M646.8,705.9v-3.0M646.8,371.4v3.0" stroke="#000" stroke-width="1.0"/>
<path d="M667.5,705.9v-3.0M667.5,371.4v3.0" stroke="#000" stroke-width="1.0"/>
<path d="M688.2,705.9v-3.0M688.2,371.4v3.0" stroke="#000" stroke-width="1.0"/>
<path d="M708.8,705.9v-3.0M708.8,371.4v3.0" stroke="#000" stroke-width="1.0"/>
<path d="M729.5,705.9v-5.0M729.5,371.4v5.0" stroke="#000" stroke-width="1.3"/>
<path d="M109.5,705.9h5M729.5,705.9h-5" stroke="#000" stroke-width="1.3"/>
<path d="M109.5,644.0h5M729.5,644.0h-5" stroke="#000" stroke-width="1.3"/>
<path d="M109.5,582.0h5M729.5,582.0h-5" stroke="#000" stroke-width="1.3"/>
<path d="M109.5,520.1h5M729.5,520.1h-5" stroke="#000" stroke-width="1.3"/>
<path d="M109.5,458.1h5M729.5,458.1h-5" stroke="#000" stroke-width="1.3"/>
<path d="M109.5,396.2h5M729.5,396.2h-5" stroke="#000" stroke-width="1.3"/>
<path d="M109.5,693.5h3M729.5,693.5h-3" stroke="#000" stroke-width="1.0"/>
<path d="M109.5,681.1h3M729.5,681.1h-3" stroke="#000" stroke-width="1.0"/>
<path d="M109.5,668.7h3M729.5,668.7h-3" stroke="#000" stroke-width="1.0"/>
<path d="M109.5,656.3h3M729.5,656.3h-3" stroke="#000" stroke-width="1.0"/>
<path d="M109.5,631.6h3M729.5,631.6h-3" stroke="#000" stroke-width="1.0"/>
<path d="M109.5,619.2h3M729.5,619.2h-3" stroke="#000" stroke-width="1.0"/>
<path d="M109.5,606.8h3M729.5,606.8h-3" stroke="#000" stroke-width="1.0"/>
<path d="M109.5,594.4h3M729.5,594.4h-3" stroke="#000" stroke-width="1.0"/>
<path d="M109.5,569.6h3M729.5,569.6h-3" stroke="#000" stroke-width="1.0"/>
<path d="M109.5,557.2h3M729.5,557.2h-3" stroke="#000" stroke-width="1.0"/>
<path d="M109.5,544.8h3M729.5,544.8h-3" stroke="#000" stroke-width="1.0"/>
<path d="M109.5,532.5h3M729.5,532.5h-3" stroke="#000" stroke-width="1.0"/>
<path d="M109.5,507.7h3M729.5,507.7h-3" stroke="#000" stroke-width="1.0"/>
<path d="M109.5,495.3h3M729.5,495.3h-3" stroke="#000" stroke-width="1.0"/>
<path d="M109.5,482.9h3M729.5,482.9h-3" stroke="#000" stroke-width="1.0"/>
<path d="M109.5,470.5h3M729.5,470.5h-3" stroke="#000" stroke-width="1.0"/>
<path d="M109.5,445.7h3M729.5,445.7h-3" stroke="#000" stroke-width="1.0"/>
<path d="M109.5,433.3h3M729.5,433.3h-3" stroke="#000" stroke-width="1.0"/>
<path d="M109.5,421.0h3M729.5,421.0h-3" stroke="#000" stroke-width="1.0"/>
<path d="M109.5,408.6h3M729.5,408.6h-3" stroke="#000" stroke-width="1.0"/>
<path d="M109.5,383.8h3M729.5,383.8h-3" stroke="#000" stroke-width="1.0"/>
<path d="M109.5,371.4h3M729.5,371.4h-3" stroke="#000" stroke-width="1.0"/>
<rect x="109.5" y="371.4" width="620.0" height="334.5" fill="none" stroke="#000" stroke-width="1.7"/>
<path d="M109.5,1059.3v-5.0M109.5,723.4v5.0" stroke="#000" stroke-width="1.3"/>
<path d="M130.1,1059.3v-3.0M130.1,723.4v3.0" stroke="#000" stroke-width="1.0"/>
<path d="M150.8,1059.3v-3.0M150.8,723.4v3.0" stroke="#000" stroke-width="1.0"/>
<path d="M171.5,1059.3v-3.0M171.5,723.4v3.0" stroke="#000" stroke-width="1.0"/>
<path d="M192.1,1059.3v-3.0M192.1,723.4v3.0" stroke="#000" stroke-width="1.0"/>
<path d="M212.8,1059.3v-5.0M212.8,723.4v5.0" stroke="#000" stroke-width="1.3"/>
<path d="M233.5,1059.3v-3.0M233.5,723.4v3.0" stroke="#000" stroke-width="1.0"/>
<path d="M254.1,1059.3v-3.0M254.1,723.4v3.0" stroke="#000" stroke-width="1.0"/>
<path d="M274.8,1059.3v-3.0M274.8,723.4v3.0" stroke="#000" stroke-width="1.0"/>
<path d="M295.5,1059.3v-3.0M295.5,723.4v3.0" stroke="#000" stroke-width="1.0"/>
<path d="M316.1,1059.3v-5.0M316.1,723.4v5.0" stroke="#000" stroke-width="1.3"/>
<path d="M336.8,1059.3v-3.0M336.8,723.4v3.0" stroke="#000" stroke-width="1.0"/>
<path d="M357.5,1059.3v-3.0M357.5,723.4v3.0" stroke="#000" stroke-width="1.0"/>
<path d="M378.1,1059.3v-3.0M378.1,723.4v3.0" stroke="#000" stroke-width="1.0"/>
<path d="M398.8,1059.3v-3.0M398.8,723.4v3.0" stroke="#000" stroke-width="1.0"/>
<path d="M419.5,1059.3v-5.0M419.5,723.4v5.0" stroke="#000" stroke-width="1.3"/>
<path d="M440.1,1059.3v-3.0M440.1,723.4v3.0" stroke="#000" stroke-width="1.0"/>
<path d="M460.8,1059.3v-3.0M460.8,723.4v3.0" stroke="#000" stroke-width="1.0"/>
<path d="M481.5,1059.3v-3.0M481.5,723.4v3.0" stroke="#000" stroke-width="1.0"/>
<path d="M502.1,1059.3v-3.0M502.1,723.4v3.0" stroke="#000" stroke-width="1.0"/>
<path d="M522.8,1059.3v-5.0M522.8,723.4v5.0" stroke="#000" stroke-width="1.3"/>
<path d="M543.5,1059.3v-3.0M543.5,723.4v3.0" stroke="#000" stroke-width="1.0"/>
<path d="M564.1,1059.3v-3.0M564.1,723.4v3.0" stroke="#000" stroke-width="1.0"/>
<path d="M584.8,1059.3v-3.0M584.8,723.4v3.0" stroke="#000" stroke-width="1.0"/>
<path d="M605.5,1059.3v-3.0M605.5,723.4v3.0" stroke="#000" stroke-width="1.0"/>
<path d="M626.2,1059.3v-5.0M626.2,723.4v5.0" stroke="#000" stroke-width="1.3"/>
<path d="M646.8,1059.3v-3.0M646.8,723.4v3.0" stroke="#000" stroke-width="1.0"/>
<path d="M667.5,1059.3v-3.0M667.5,723.4v3.0" stroke="#000" stroke-width="1.0"/>
<path d="M688.2,1059.3v-3.0M688.2,723.4v3.0" stroke="#000" stroke-width="1.0"/>
<path d="M708.8,1059.3v-3.0M708.8,723.4v3.0" stroke="#000" stroke-width="1.0"/>
<path d="M729.5,1059.3v-5.0M729.5,723.4v5.0" stroke="#000" stroke-width="1.3"/>
<path d="M109.5,1038.4h5M729.5,1038.4h-5" stroke="#000" stroke-width="1.3"/>
<path d="M109.5,954.4h5M729.5,954.4h-5" stroke="#000" stroke-width="1.3"/>
<path d="M109.5,870.4h5M729.5,870.4h-5" stroke="#000" stroke-width="1.3"/>
<path d="M109.5,786.4h5M729.5,786.4h-5" stroke="#000" stroke-width="1.3"/>
<path d="M109.5,1059.3h3M729.5,1059.3h-3" stroke="#000" stroke-width="1.0"/>
<path d="M109.5,1017.4h3M729.5,1017.4h-3" stroke="#000" stroke-width="1.0"/>
<path d="M109.5,996.4h3M729.5,996.4h-3" stroke="#000" stroke-width="1.0"/>
<path d="M109.5,975.4h3M729.5,975.4h-3" stroke="#000" stroke-width="1.0"/>
<path d="M109.5,933.4h3M729.5,933.4h-3" stroke="#000" stroke-width="1.0"/>
<path d="M109.5,912.4h3M729.5,912.4h-3" stroke="#000" stroke-width="1.0"/>
<path d="M109.5,891.4h3M729.5,891.4h-3" stroke="#000" stroke-width="1.0"/>
<path d="M109.5,849.4h3M729.5,849.4h-3" stroke="#000" stroke-width="1.0"/>
<path d="M109.5,828.4h3M729.5,828.4h-3" stroke="#000" stroke-width="1.0"/>
<path d="M109.5,807.4h3M729.5,807.4h-3" stroke="#000" stroke-width="1.0"/>
<path d="M109.5,765.4h3M729.5,765.4h-3" stroke="#000" stroke-width="1.0"/>
<path d="M109.5,744.4h3M729.5,744.4h-3" stroke="#000" stroke-width="1.0"/>
<path d="M109.5,723.4h3M729.5,723.4h-3" stroke="#000" stroke-width="1.0"/>
<rect x="109.5" y="723.4" width="620.0" height="335.9" fill="none" stroke="#000" stroke-width="1.7"/>
<text x="0.0" y="0.0" font-size="27.4" text-anchor="end" font-weight="normal" fill="#000" font-style="normal" transform="translate(103.70,365.06) scale(1,1.07)">0</text>
<text x="0.0" y="0.0" font-size="27.4" text-anchor="end" font-weight="normal" fill="#000" font-style="normal" transform="translate(103.70,281.36) scale(1,1.07)">1</text>
<text x="0.0" y="0.0" font-size="27.4" text-anchor="end" font-weight="normal" fill="#000" font-style="normal" transform="translate(103.70,197.66) scale(1,1.07)">2</text>
<text x="0.0" y="0.0" font-size="27.4" text-anchor="end" font-weight="normal" fill="#000" font-style="normal" transform="translate(103.70,113.96) scale(1,1.07)">3</text>
<text x="0.0" y="0.0" font-size="27.4" text-anchor="end" font-weight="normal" fill="#000" font-style="normal" transform="translate(103.70,30.26) scale(1,1.07)">4</text>
<text x="0.0" y="0.0" font-size="27.4" text-anchor="end" font-weight="normal" fill="#000" font-style="normal" transform="translate(103.70,716.66) scale(1,1.07)">0.00</text>
<text x="0.0" y="0.0" font-size="27.4" text-anchor="end" font-weight="normal" fill="#000" font-style="normal" transform="translate(103.70,654.72) scale(1,1.07)">0.05</text>
<text x="0.0" y="0.0" font-size="27.4" text-anchor="end" font-weight="normal" fill="#000" font-style="normal" transform="translate(103.70,592.78) scale(1,1.07)">0.10</text>
<text x="0.0" y="0.0" font-size="27.4" text-anchor="end" font-weight="normal" fill="#000" font-style="normal" transform="translate(103.70,530.83) scale(1,1.07)">0.15</text>
<text x="0.0" y="0.0" font-size="27.4" text-anchor="end" font-weight="normal" fill="#000" font-style="normal" transform="translate(103.70,468.89) scale(1,1.07)">0.20</text>
<text x="0.0" y="0.0" font-size="27.4" text-anchor="end" font-weight="normal" fill="#000" font-style="normal" transform="translate(103.70,406.94) scale(1,1.07)">0.25</text>
<text x="0.0" y="0.0" font-size="27.4" text-anchor="end" font-weight="normal" fill="#000" font-style="normal" transform="translate(103.70,1049.12) scale(1,1.07)">0</text>
<text x="0.0" y="0.0" font-size="27.4" text-anchor="end" font-weight="normal" fill="#000" font-style="normal" transform="translate(103.70,965.13) scale(1,1.07)">20</text>
<text x="0.0" y="0.0" font-size="27.4" text-anchor="end" font-weight="normal" fill="#000" font-style="normal" transform="translate(103.70,881.14) scale(1,1.07)">40</text>
<text x="0.0" y="0.0" font-size="27.4" text-anchor="end" font-weight="normal" fill="#000" font-style="normal" transform="translate(103.70,797.16) scale(1,1.07)">60</text>
<text x="0.0" y="0.0" font-size="27.4" text-anchor="middle" font-weight="normal" fill="#000" font-style="normal" transform="translate(109.45,1083.86) scale(1,1.07)">0</text>
<text x="0.0" y="0.0" font-size="27.4" text-anchor="middle" font-weight="normal" fill="#000" font-style="normal" transform="translate(212.79,1083.86) scale(1,1.07)">1</text>
<text x="0.0" y="0.0" font-size="27.4" text-anchor="middle" font-weight="normal" fill="#000" font-style="normal" transform="translate(316.13,1083.86) scale(1,1.07)">2</text>
<text x="0.0" y="0.0" font-size="27.4" text-anchor="middle" font-weight="normal" fill="#000" font-style="normal" transform="translate(419.47,1083.86) scale(1,1.07)">3</text>
<text x="0.0" y="0.0" font-size="27.4" text-anchor="middle" font-weight="normal" fill="#000" font-style="normal" transform="translate(522.81,1083.86) scale(1,1.07)">4</text>
<text x="0.0" y="0.0" font-size="27.4" text-anchor="middle" font-weight="normal" fill="#000" font-style="normal" transform="translate(626.15,1083.86) scale(1,1.07)">5</text>
<text x="0.0" y="0.0" font-size="27.4" text-anchor="middle" font-weight="normal" fill="#000" font-style="normal" transform="translate(729.49,1083.86) scale(1,1.07)">6</text>
<text x="419.2" y="1115.5" font-size="28" text-anchor="middle" font-weight="normal" fill="#000" font-style="normal" >Time [hrs]</text>
<text x="0.0" y="0.0" font-size="28" text-anchor="middle" font-weight="normal" fill="#000" font-style="normal" transform="translate(42.6,190) rotate(-90)">Voltage/Potential [V]</text>
<text x="0.0" y="0.0" font-size="28" text-anchor="middle" font-weight="normal" fill="#000" font-style="normal" transform="translate(42.8,541) rotate(-90)">Current [A]</text>
<text x="0.0" y="0.0" font-size="28" text-anchor="middle" font-weight="normal" fill="#000" font-style="normal" transform="translate(41.3,892) rotate(-90)">Thickness [<tspan font-style="italic">μ</tspan>m]</text>
<text x="0.0" y="0.0" font-size="41" text-anchor="start" font-weight="bold" fill="#000" font-style="normal" transform="translate(9.8,47.2) scale(1,1.07)">A</text>
<text x="0.0" y="0.0" font-size="41" text-anchor="start" font-weight="bold" fill="#000" font-style="normal" transform="translate(11.8,398.4) scale(0.96,1.1)">B</text>
<text x="0.0" y="0.0" font-size="41" text-anchor="start" font-weight="bold" fill="#000" font-style="normal" transform="translate(10.9,751.6) scale(1.04,1.09)">C</text>
<text x="263.4" y="231.7" font-size="28" text-anchor="start" font-weight="bold" fill="#ab0db0" font-style="normal" >SEI 1 (VC)</text>
<text x="262.9" y="277.4" font-size="28" text-anchor="start" font-weight="bold" fill="#19b2b2" font-style="normal" >SEI 2 (EC)</text>
<text x="212.1" y="495.8" font-size="28" text-anchor="start" font-weight="bold" fill="#ab0db0" font-style="normal" >SEI 1</text>
<text x="298.8" y="644.4" font-size="28" text-anchor="start" font-weight="bold" fill="#19b2b2" font-style="normal" >SEI 2</text>
<text x="523.0" y="857.5" font-size="27.5" text-anchor="start" font-weight="bold" fill="#000" font-style="normal" >Reversible</text>
<text x="522.3" y="958.3" font-size="28" text-anchor="start" font-weight="bold" fill="#19b2b2" font-style="normal" >SEI 2</text>
<text x="522.5" y="1038.8" font-size="28" text-anchor="start" font-weight="bold" fill="#ab0db0" font-style="normal" >SEI 1</text>
<circle cx="140.5" cy="323.7" r="12.2" fill="none" stroke="#000" stroke-width="1.3"/>
<text x="140.5" y="329.5" font-size="20" text-anchor="middle" font-weight="normal" fill="#000" font-style="normal" >1</text>
<circle cx="219.7" cy="428.2" r="12.2" fill="none" stroke="#000" stroke-width="1.3"/>
<text x="219.7" y="434.0" font-size="20" text-anchor="middle" font-weight="normal" fill="#000" font-style="normal" >2</text>
<circle cx="261.0" cy="564.5" r="12.2" fill="none" stroke="#000" stroke-width="1.3"/>
<text x="261.0" y="570.3" font-size="20" text-anchor="middle" font-weight="normal" fill="#000" font-style="normal" >3</text>
<circle cx="569.7" cy="764.0" r="12.2" fill="none" stroke="#000" stroke-width="1.3"/>
<text x="569.7" y="769.8" font-size="20" text-anchor="middle" font-weight="normal" fill="#000" font-style="normal" >4</text>
<circle cx="569.4" cy="672.5" r="12.2" fill="none" stroke="#000" stroke-width="1.3"/>
<text x="569.4" y="678.3" font-size="20" text-anchor="middle" font-weight="normal" fill="#000" font-style="normal" >5</text>
<rect x="482.7" y="82.9" width="234.6" height="208.2" fill="#fff" stroke="#cccccc" stroke-width="1.2" rx="2"/>
<path d="M491.8,106.4 L543.5,106.4" fill="none" stroke="#0000cc" stroke-width="2.7" stroke-linejoin="round"/>
<path d="M491.8,145.4 L543.5,145.4" fill="none" stroke="#000000" stroke-width="2.7" stroke-linejoin="round"/>
<path d="M491.8,182.0 L543.5,182.0" fill="none" stroke="#dd1111" stroke-width="2.7" stroke-linejoin="round"/>
<path d="M491.8,221.4 L543.5,221.4" fill="none" stroke="#ab0db0" stroke-width="2.7" stroke-linejoin="round" stroke-dasharray="10.5 4.3"/>
<path d="M491.8,262.5 L543.5,262.5" fill="none" stroke="#19b2b2" stroke-width="2.7" stroke-linejoin="round" stroke-dasharray="10.5 4.3"/>
<text x="561.5" y="115.0" font-size="24.5" font-style="italic">U</text>
<path d="M586.1,100.1h11.6M591.9,94.3v11.6" stroke="#000" stroke-width="1.1"/>
<path d="M609.5,108.1h16.4M617.7,100.4v15.4" stroke="#000" stroke-width="1.1"/>
<text x="630.5" y="115.0" font-size="26" font-style="italic">η</text>
<path d="M650.0,101.1h11.6M655.8,95.3v11.6" stroke="#000" stroke-width="1.1"/>
<text x="562.5" y="154.0" font-size="24.5" font-style="italic">V</text>
<text x="577.4" y="158.2" font-size="17" font-style="italic">t</text>
<text x="561.5" y="191.5" font-size="24.5" font-style="italic">U</text>
<path d="M585.0,176.5h14.0" stroke="#000" stroke-width="1.1"/>
<path d="M609.7,185.0h16.1" stroke="#000" stroke-width="1.1"/>
<text x="630.5" y="191.5" font-size="26" font-style="italic">η</text>
<path d="M649.4,176.5h11.8" stroke="#000" stroke-width="1.1"/>
<text x="561.5" y="229.6" font-size="24.5" font-style="italic">U</text>
<text x="580.0" y="233.9" font-size="17">sei, 1</text>
<path d="M624.1,219.4H638.1M624.1,223.5H638.1" stroke="#000" stroke-width="1.05"/>
<text x="644.3" y="229.6" font-size="24">1.35V</text>
<text x="561.5" y="270.0" font-size="24.5" font-style="italic">U</text>
<text x="580.0" y="274.3" font-size="17">sei, 2</text>
<path d="M624.1,259.8H638.1M624.1,263.9H638.1" stroke="#000" stroke-width="1.05"/>
<text x="644.0" y="270.0" font-size="24.5">0.80V</text>
<path d="M587.2,475.3 L639.7,475.3" fill="none" stroke="#000000" stroke-width="2.7" stroke-linejoin="round"/>
<path d="M587.2,515.0 L639.7,515.0" fill="none" stroke="#000000" stroke-width="2.7" stroke-linejoin="round" stroke-dasharray="10.5 4.3"/>
<path d="M587.2,553.4 L639.7,553.4" fill="none" stroke="#ab0db0" stroke-width="2.7" stroke-linejoin="round"/>
<path d="M587.2,594.1 L639.7,594.1" fill="none" stroke="#19b2b2" stroke-width="2.7" stroke-linejoin="round"/>
<text x="659.5" y="484.0" font-size="25" font-style="italic">I</text>
<text x="668.5" y="487.7" font-size="17" textLength="28.6" lengthAdjust="spacingAndGlyphs">app</text>
<text x="659.5" y="523.6" font-size="25" font-style="italic">I</text>
<text x="668.5" y="527.3" font-size="17">sei</text>
<text x="659.5" y="562.9" font-size="25" font-style="italic">I</text>
<text x="668.5" y="566.6" font-size="17">sei, 1</text>
<text x="659.5" y="603.6" font-size="25" font-style="italic">I</text>
<text x="668.5" y="607.3" font-size="17">sei, 2</text>
<path d="M131.0,757.5 L184.0,757.5" fill="none" stroke="#000000" stroke-width="2.7" stroke-linejoin="round"/>
<path d="M131.0,799.6 L184.0,799.6" fill="none" stroke="#19b2b2" stroke-width="2.7" stroke-linejoin="round"/>
<path d="M131.0,842.2 L184.0,842.2" fill="none" stroke="#ab0db0" stroke-width="2.7" stroke-linejoin="round"/>
<path d="M204.20,765.70L213.35,748.20L222.50,765.70ZM206.10,764.00L212.73,751.33L219.35,764.00Z" fill="#000" fill-rule="evenodd"/>
<text x="223.5" y="769.8" font-size="17">sei, 1</text>
<path d="M268.1,757.6h13.7M275.0,750.7v13.7" stroke="#000" stroke-width="1.1"/>
<path d="M289.80,765.70L298.95,748.20L308.10,765.70ZM291.70,764.00L298.33,751.33L304.95,764.00Z" fill="#000" fill-rule="evenodd"/>
<text x="310.1" y="769.8" font-size="17">sei, 2</text>
<path d="M355.7,757.6h12.8M362.1,751.2v12.8" stroke="#000" stroke-width="1.1"/>
<path d="M376.50,765.70L385.65,748.20L394.80,765.70ZM378.40,764.00L385.03,751.33L391.65,764.00Z" fill="#000" fill-rule="evenodd"/>
<text x="397.0" y="769.8" font-size="17" textLength="24" lengthAdjust="spacingAndGlyphs">rev</text>
<path d="M204.20,808.90L213.35,791.40L222.50,808.90ZM206.10,807.20L212.73,794.53L219.35,807.20Z" fill="#000" fill-rule="evenodd"/>
<text x="223.5" y="813.0" font-size="17">sei, 1</text>
<path d="M268.1,800.8h13.7M275.0,793.9v13.7" stroke="#000" stroke-width="1.1"/>
<path d="M289.80,808.90L298.95,791.40L308.10,808.90ZM291.70,807.20L298.33,794.53L304.95,807.20Z" fill="#000" fill-rule="evenodd"/>
<text x="310.1" y="813.0" font-size="17">sei, 2</text>
<path d="M204.20,850.80L213.35,833.30L222.50,850.80ZM206.10,849.10L212.73,836.43L219.35,849.10Z" fill="#000" fill-rule="evenodd"/>
<text x="223.5" y="854.9" font-size="17">sei, 1</text>
</svg></body></html>
